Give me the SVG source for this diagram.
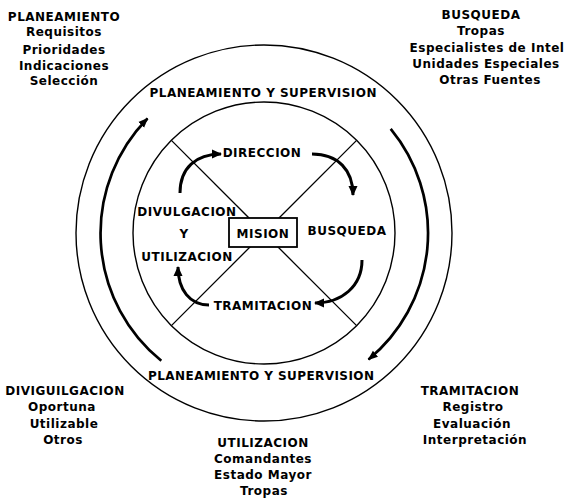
<svg xmlns="http://www.w3.org/2000/svg" width="572" height="500" viewBox="0 0 572 500">
<style>
text{font-family:"DejaVu Sans","Liberation Sans",sans-serif;font-weight:bold;font-size:12px;fill:#000;text-anchor:middle;letter-spacing:0.5px}
.ring{fill:none;stroke:#000;stroke-width:1.4}
.xl{stroke:#000;stroke-width:1.3}
.big{fill:none;stroke:#000;stroke-width:2.7}
.arr{fill:none;stroke:#000;stroke-width:3}
</style>
<defs>
<marker id="ah" markerUnits="userSpaceOnUse" markerWidth="10" markerHeight="10" refX="9" refY="5" orient="auto">
<path d="M0,0.5 L10,5 L0,9.5 z" fill="#000"/>
</marker>
<marker id="ahs" markerUnits="userSpaceOnUse" markerWidth="10" markerHeight="10" refX="9" refY="5" orient="auto">
<path d="M0,1 L10,5 L0,9 z" fill="#000"/>
</marker>
</defs>
<rect width="572" height="500" fill="#fff"/>

<g id="outer-ring">
<circle class="ring" cx="264" cy="233" r="188"/>
<text x="263" y="97" textLength="227" lengthAdjust="spacing" style="letter-spacing:0">PLANEAMIENTO Y SUPERVISION</text>
<text x="261" y="380" textLength="226" lengthAdjust="spacing" style="letter-spacing:0">PLANEAMIENTO Y SUPERVISION</text>
</g>

<g id="inner-circle">
<circle class="ring" cx="264" cy="233" r="131"/>
<line class="xl" x1="171.4" y1="140.4" x2="356.6" y2="325.6"/>
<line class="xl" x1="356.6" y1="140.4" x2="171.4" y2="325.6"/>
</g>

<g id="mision">
<rect x="229" y="218" width="68" height="29" fill="#fff" stroke="#000" stroke-width="1.8"/>
<text x="263" y="238">MISION</text>
</g>

<g id="direccion"><text x="262" y="157">DIRECCION</text></g>
<g id="busqueda-inner"><text x="347" y="235">BUSQUEDA</text></g>
<g id="tramitacion-inner"><text x="263" y="310">TRAMITACION</text></g>
<g id="divulgacion-inner">
<text x="187" y="216">DIVULGACION</text>
<text x="184" y="238">Y</text>
<text x="187" y="261">UTILIZACION</text>
</g>

<g id="connectors">
<path class="big" d="M161.3,360.8 A164,164 0 0 1 147.5,118.5" marker-end="url(#ahs)"/>
<path class="big" d="M390.7,128.9 A164,164 0 0 1 368.5,359.5" marker-end="url(#ahs)"/>
<path class="arr" d="M180,193 C180,168 196,154 221,154" marker-end="url(#ah)"/>
<path class="arr" d="M312,154 C338,154 353,170 353,195" marker-end="url(#ah)"/>
<path class="arr" d="M362,260 C362,286 342,303 315,303" marker-end="url(#ah)"/>
<path class="arr" d="M209,305 C190,305 178,290 178,267" marker-end="url(#ah)"/>
</g>

<g id="planeamiento">
<text x="64" y="21">PLANEAMIENTO</text>
<text x="64" y="36">Requisitos</text>
<text x="64" y="54">Prioridades</text>
<text x="64" y="70">Indicaciones</text>
<text x="64" y="85">Selección</text>
</g>

<g id="busqueda">
<text x="481" y="19">BUSQUEDA</text>
<text x="481" y="35">Tropas</text>
<text x="487" y="52">Especialistes de Intel</text>
<text x="486" y="68">Unidades Especiales</text>
<text x="490" y="84">Otras Fuentes</text>
</g>

<g id="divulgacion">
<text x="65" y="395">DIVIGUILGACION</text>
<text x="62" y="411">Oportuna</text>
<text x="64" y="428">Utilizable</text>
<text x="63" y="444">Otros</text>
</g>

<g id="utilizacion">
<text x="263" y="447">UTILIZACION</text>
<text x="263" y="463">Comandantes</text>
<text x="263" y="479">Estado Mayor</text>
<text x="264" y="495">Tropas</text>
</g>

<g id="tramitacion">
<text x="470" y="395">TRAMITACION</text>
<text x="473" y="411">Registro</text>
<text x="472" y="428">Evaluación</text>
<text x="475" y="444">Interpretación</text>
</g>
</svg>
